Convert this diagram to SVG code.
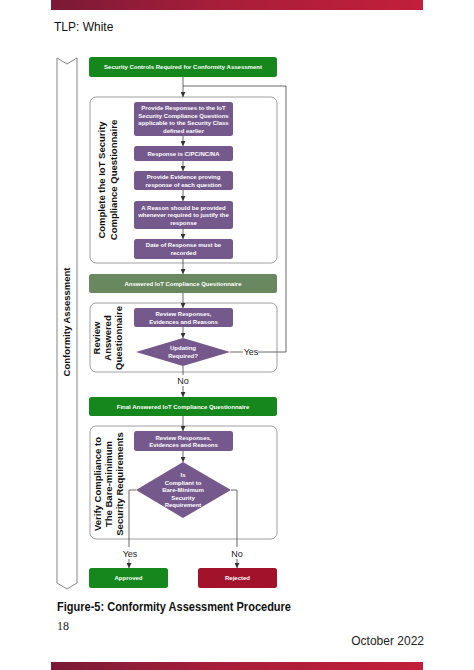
<svg xmlns="http://www.w3.org/2000/svg" width="474" height="670" viewBox="0 0 474 670">
<defs>
<linearGradient id="bar" x1="0" y1="0" x2="1" y2="0">
<stop offset="0" stop-color="#7a1a36"/>
<stop offset="0.45" stop-color="#a81e3a"/>
<stop offset="1" stop-color="#c21f3a"/>
</linearGradient>
<marker id="ah" viewBox="0 0 6 6" refX="6" refY="3" markerWidth="5" markerHeight="5" orient="auto" markerUnits="userSpaceOnUse">
<path d="M0,0 L6,3 L0,6 z" fill="#333"/>
</marker>
<style>
.t{font-family:"Liberation Sans",Arial,sans-serif;}
.bx{font-family:"Liberation Sans",Arial,sans-serif;font-weight:bold;font-size:6px;fill:#fff;text-anchor:middle;}
.lbl{font-family:"Liberation Sans",Arial,sans-serif;font-weight:bold;font-size:9.5px;fill:#111;text-anchor:middle;}
.pur{fill:#76598c;}
.grn{fill:#16871d;}
.cont{fill:#fff;stroke:#888;stroke-width:0.8;}
.ln{fill:none;stroke:#444;stroke-width:0.8;}
.yn{font-family:"Liberation Sans",Arial,sans-serif;font-size:9px;fill:#222;text-anchor:middle;}
</style>
</defs>
<rect width="474" height="670" fill="#fff"/>
<rect x="51" y="0" width="372" height="10" fill="url(#bar)"/>
<rect x="51" y="662" width="372" height="8" fill="url(#bar)"/>
<text class="t" x="54" y="31" font-size="12" fill="#111">TLP: White</text>
<text class="t" x="424" y="645" font-size="12" fill="#222" text-anchor="end">October 2022</text>
<text x="57" y="630" font-family="Liberation Serif,serif" font-size="12" fill="#222">18</text>
<text class="t" x="57" y="611" font-size="12" font-weight="bold" fill="#111" textLength="234" lengthAdjust="spacingAndGlyphs">Figure-5: Conformity Assessment Procedure</text>

<g id="band">
<polygon points="57,58 67,64 77,58 77,583 67,589 57,583" fill="#fff" stroke="#666" stroke-width="0.8"/>
<text class="lbl" font-size="8.5" transform="translate(70,322) rotate(-90)">Conformity Assessment</text>
</g>

<g id="c1"><rect class="cont" x="90" y="97" width="187" height="166" rx="6"/>
<text class="lbl" transform="translate(105,180) rotate(-90)">Complete the IoT Security</text>
<text class="lbl" transform="translate(117,180) rotate(-90)">Compliance Questionnaire</text></g>
<g id="c2"><rect class="cont" x="90" y="303" width="187" height="69" rx="6"/>
<text class="lbl" transform="translate(100,338) rotate(-90)">Review</text>
<text class="lbl" transform="translate(111,338) rotate(-90)">Answered</text>
<text class="lbl" transform="translate(122,338) rotate(-90)">Questionnaire</text></g>
<g id="c3"><rect class="cont" x="90" y="426" width="187" height="113" rx="6"/>
<text class="lbl" transform="translate(101,484) rotate(-90)">Verify Compliance to</text>
<text class="lbl" transform="translate(112,484) rotate(-90)">The Bare-minimum</text>
<text class="lbl" transform="translate(123,484) rotate(-90)">Security Requirements</text></g>

<g id="connectors">
<line class="ln" x1="183" y1="77" x2="183" y2="97" marker-end="url(#ah)"/>
<polyline class="ln" points="258,352 286,352 286,86 183,86"/>
<line class="ln" x1="230" y1="352" x2="243" y2="352"/>
<line class="ln" x1="183" y1="136" x2="183" y2="146" marker-end="url(#ah)"/>
<line class="ln" x1="183" y1="161" x2="183" y2="171" marker-end="url(#ah)"/>
<line class="ln" x1="183" y1="190" x2="183" y2="201" marker-end="url(#ah)"/>
<line class="ln" x1="183" y1="229" x2="183" y2="239" marker-end="url(#ah)"/>
<line class="ln" x1="183" y1="259" x2="183" y2="274" marker-end="url(#ah)"/>
<line class="ln" x1="183" y1="293" x2="183" y2="308" marker-end="url(#ah)"/>
<line class="ln" x1="183" y1="327" x2="183" y2="338" marker-end="url(#ah)"/>
<line class="ln" x1="183" y1="366" x2="183" y2="375"/>
<line class="ln" x1="183" y1="386" x2="183" y2="397" marker-end="url(#ah)"/>
<line class="ln" x1="183" y1="416" x2="183" y2="431" marker-end="url(#ah)"/>
<line class="ln" x1="183" y1="451" x2="183" y2="462" marker-end="url(#ah)"/>
<polyline class="ln" points="136,490 129,490 129,547"/>
<line class="ln" x1="129" y1="559" x2="129" y2="568" marker-end="url(#ah)"/>
<polyline class="ln" points="231,490 237,490 237,547"/>
<line class="ln" x1="237" y1="559" x2="237" y2="568" marker-end="url(#ah)"/>
<text class="yn" x="251" y="355">Yes</text>
<text class="yn" x="183" y="384">No</text>
<text class="yn" x="130" y="557">Yes</text>
<text class="yn" x="237" y="557">No</text>
</g>

<g id="n0"><rect class="grn" x="89" y="57" width="188" height="20" rx="2.5"/>
<text class="bx" x="183" y="69">Security Controls Required for Conformity Assessment</text></g>
<g id="n1"><rect class="pur" x="134" y="102" width="99" height="34" rx="2.5"/>
<text class="bx" x="183.5" y="110">Provide Responses to the IoT</text>
<text class="bx" x="183.5" y="117.5">Security Compliance Questions</text>
<text class="bx" x="183.5" y="125">applicable to the Security Class</text>
<text class="bx" x="183.5" y="132.5">defined earlier</text></g>
<g id="n2"><rect class="pur" x="134" y="146" width="99" height="15" rx="2.5"/>
<text class="bx" x="183.5" y="155.5">Response is C/PC/NC/NA</text></g>
<g id="n3"><rect class="pur" x="134" y="171" width="99" height="19" rx="2.5"/>
<text class="bx" x="183.5" y="179">Provide Evidence proving</text>
<text class="bx" x="183.5" y="186.5">response of each question</text></g>
<g id="n4"><rect class="pur" x="134" y="201" width="99" height="28" rx="2.5"/>
<text class="bx" x="183.5" y="209.5">A Reason should be provided</text>
<text class="bx" x="183.5" y="217">whenever required to justify the</text>
<text class="bx" x="183.5" y="224.5">response</text></g>
<g id="n5"><rect class="pur" x="134" y="239" width="99" height="20" rx="2.5"/>
<text class="bx" x="183.5" y="247">Date of Response must be</text>
<text class="bx" x="183.5" y="254.5">recorded</text></g>
<g id="n6"><rect x="89" y="274" width="188" height="19" rx="2.5" fill="#6a8860"/>
<text class="bx" x="183" y="285.5">Answered IoT Compliance Questionnaire</text></g>
<g id="n7"><rect class="pur" x="134" y="308" width="99" height="19" rx="2.5"/>
<text class="bx" x="183.5" y="316">Review Responses,</text>
<text class="bx" x="183.5" y="323.5">Evidences and Reasons</text></g>
<g id="n8"><polygon class="pur" points="183,338 230,352 183,366 136,352"/>
<text class="bx" x="183" y="350">Updating</text>
<text class="bx" x="183" y="357.5">Required?</text></g>
<g id="n9"><rect class="grn" x="89" y="397" width="188" height="19" rx="2.5"/>
<text class="bx" x="183" y="408.5">Final Answered IoT Compliance Questionnaire</text></g>
<g id="n10"><rect class="pur" x="134" y="431" width="99" height="20" rx="2.5"/>
<text class="bx" x="183.5" y="439.5">Review Responses,</text>
<text class="bx" x="183.5" y="447">Evidences and Reasons</text></g>
<g id="n11"><polygon class="pur" points="183,462 231,490 183,518 136,490"/>
<text class="bx" x="183" y="477">Is</text>
<text class="bx" x="183" y="484.5">Compliant to</text>
<text class="bx" x="183" y="492">Bare-Minimum</text>
<text class="bx" x="183" y="499.5">Security</text>
<text class="bx" x="183" y="507">Requirement</text></g>
<g id="n12"><rect class="grn" x="89" y="568" width="79" height="20" rx="2.5"/>
<text class="bx" x="128.5" y="580">Approved</text></g>
<g id="n13"><rect x="198" y="568" width="79" height="20" rx="2.5" fill="#a3122b"/>
<text class="bx" x="237.5" y="580">Rejected</text></g>
</svg>
